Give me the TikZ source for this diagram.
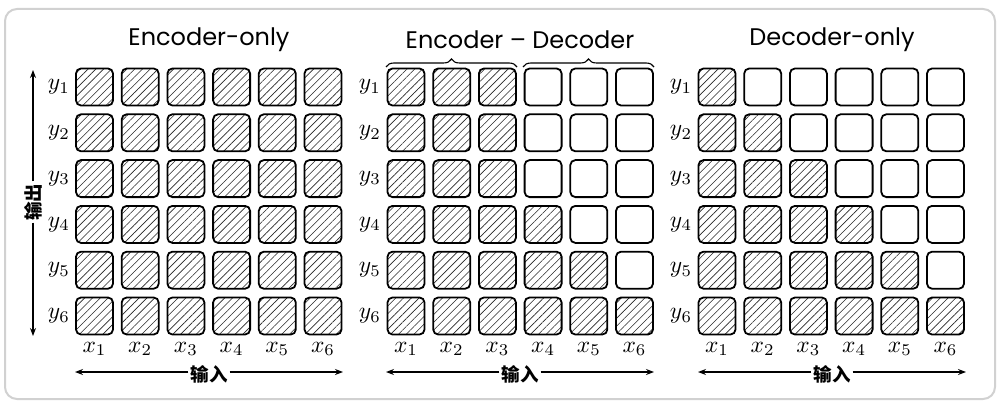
\documentclass[tikz,border=0pt]{standalone}
\usepackage{graphicx}
\usepackage{fontspec}
\newfontfamily\cjk{Noto Sans CJK SC}
\newfontfamily\titlefont{Poppins}
\usetikzlibrary{patterns.meta,arrows.meta,decorations.pathreplacing}
\newcommand\mlab[1]{\scalebox{2.35}{$#1$}}
\begin{document}
\begin{tikzpicture}[x=1pt,y=-1pt,
  cell/.style={draw=black, line width=1.8pt, rounded corners=5pt, minimum size=37pt, inner sep=0pt, fill=white},
  hatched/.style={cell, pattern={Lines[angle=45,distance=5.5pt,line width=0.6pt]}, pattern color=black!85},
  ylab/.style={inner sep=0pt},
  xlab/.style={inner sep=0pt},
  ttl/.style={font=\titlefont\fontsize{24}{24}\selectfont, inner sep=0pt},
  cn/.style={font=\cjk\bfseries\fontsize{18.5}{18.5}\selectfont, inner sep=2pt, fill=white},
  axis/.style={line width=1.3pt, -{Stealth[length=8pt,width=6pt]}},
  brc/.style={decorate, decoration={brace, amplitude=8pt}, line width=1.1pt}]
\useasboundingbox (0,0) rectangle (1008,406);
\draw[black!18, line width=2pt, rounded corners=12pt] (5,9) rectangle (995,399);
% titles
\node[ttl] (tA) at (209,40) {Encoder-only};
\node[ttl] (tB) at (520,40) {Encoder – Decoder};
\node[ttl] (tC) at (832,40) {Decoder-only};
% grids
\foreach \r in {1,...,6} {
  \foreach \c in {1,...,6} {
    \pgfmathsetmacro\px{94.5+(\c-1)*45.7}
    \pgfmathsetmacro\py{87+(\r-1)*45.8}
    \node[hatched] (A-\r-\c) at (\px,\py) {};
    \pgfmathtruncatemacro\hb{((\c<=3)||(\r>=\c))?1:0}
    \ifnum\hb=1 \def\sty{hatched}\else\def\sty{cell}\fi
    \node[\sty] (B-\r-\c) at (\px+311.5,\py) {};
    \pgfmathtruncatemacro\hc{(\r>=\c)?1:0}
    \ifnum\hc=1 \def\sty{hatched}\else\def\sty{cell}\fi
    \node[\sty] (C-\r-\c) at (\px+622.5,\py) {};
  }
  \pgfmathsetmacro\py{87+(\r-1)*45.8}
  \node[ylab] (yA-\r) at (59,\py) {\mlab{y_{\r}}};
  \node[ylab] (yB-\r) at (370,\py) {\mlab{y_{\r}}};
  \node[ylab] (yC-\r) at (681,\py) {\mlab{y_{\r}}};
  \pgfmathsetmacro\px{94.5+(\r-1)*45.7}
  \node[xlab] (xA-\r) at (\px,349) {\mlab{x_{\r}}};
  \node[xlab] (xB-\r) at (\px+311.5,349) {\mlab{x_{\r}}};
  \node[xlab] (xC-\r) at (\px+622.5,349) {\mlab{x_{\r}}};
}
% braces
\coordinate (b1l) at (386,67); \coordinate (b1r) at (517,67);
\coordinate (b2l) at (523,67); \coordinate (b2r) at (654,67);
\draw[brc] (b1l) -- (b1r);
\draw[brc] (b2l) -- (b2r);
% output axis
\coordinate (vt) at (33,70); \coordinate (vb) at (33,336);
\node[cn, rotate=90] (out) at (33,202) {输出};
\draw[axis] (out.east) -- (vt);
\draw[axis] (out.west) -- (vb);
% input axes
\foreach \g/\cx/\l/\rr in {A/209/75/343, B/520/386/654, C/832/698/966} {
  \coordinate (\g-il) at (\l,372);
  \coordinate (\g-ir) at (\rr,372);
  \node[cn] (\g-in) at (\cx,374) {输入};
  \draw[axis] (\g-in.west |- \g-il) -- (\g-il);
  \draw[axis] (\g-in.east |- \g-ir) -- (\g-ir);
}
\end{tikzpicture}
\end{document}
